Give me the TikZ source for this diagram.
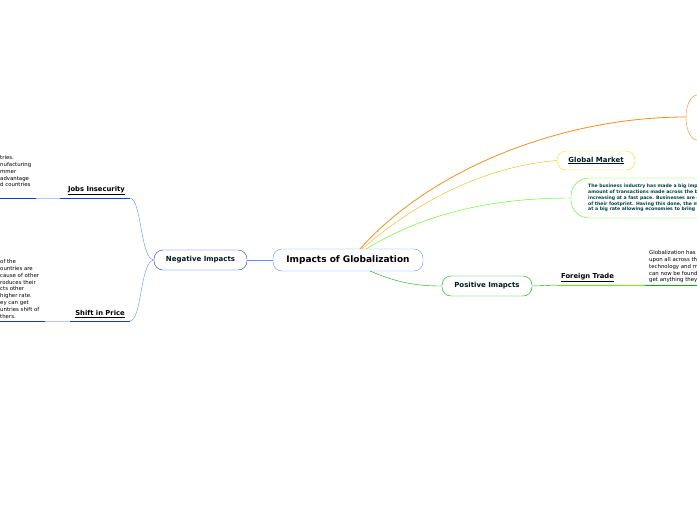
\documentclass[tikz,border=0pt]{standalone}
\usepackage{fontspec}
\setmainfont{DejaVu Sans}
\definecolor{lb}{RGB}{100,140,255}
\definecolor{db}{RGB}{20,60,220}
\begin{document}
\begin{tikzpicture}[x=1pt,y=-1pt,
 box/.style={draw,rounded corners=9pt,font=\bfseries\fontsize{7}{8}\selectfont,text=black!80!teal,inner sep=0pt},
 tiny/.style={font=\fontsize{5.4}{6.9}\selectfont,align=left,anchor=north west,inner sep=0pt,text=black},
 lab/.style={font=\bfseries\fontsize{6.8}{8}\selectfont,inner sep=0pt}]
\useasboundingbox (0,0) rectangle (697,520);
\node[box,draw=lb,minimum width=150pt,minimum height=22pt,font=\bfseries\fontsize{9}{10}\selectfont,text=black] (c) at (348,260) {Impacts of Globalization};
\node[box,draw=db,minimum width=93pt,minimum height=20pt] (n) at (200.5,260) {Negative Impacts};
\node[box,draw=green!70!black,minimum width=90pt,minimum height=20pt] (p) at (487,286) {Positive Imapcts};
\node[box,draw=yellow!90!orange,minimum width=78pt,minimum height=19pt] (g) at (596,160.5) {\underline{Global Market}};
\draw[green!60!lime,rounded corners=18pt] (697,178) -- (571,178) -- (571,218) -- (697,218);
\coordinate (gb) at (571,198);
\node[tiny,font=\bfseries\fontsize{4.6}{5.8}\selectfont,text=teal!50!black] at (588,184) {The business industry has made a big impa\\amount of transactions made across the bo\\increasing at a fast pace. Businesses are do\\of their footprint. Having this done, the ma\\at a big rate allowing economies to bring in};
\draw[orange!90] (697,95) arc (90:270:11pt and 22.5pt);
\coordinate (o) at (686,117);
\draw[orange!90,thick] (360,249) .. controls (430,170) and (560,117) .. (o);
\draw[orange!60!yellow] (362,249) .. controls (430,190) and (500,165) .. (g.west);
\draw[green!60!lime] (366,249) .. controls (430,210) and (500,198) .. (gb);
\draw[green!70!black] (370,271) .. controls (400,284) and (420,286) .. (p.west);
\draw[lb] (c.west) -- (n.east);
\coordinate (ft) at (697,285);
\draw[green!70!black] (p.east) -- (557,285);
\draw[green!60!lime,line width=1pt] (557,285) -- (620,285);
\draw[green!70!black,line width=1pt] (645,285) -- (ft);
\draw[green!40!lime,line width=1pt] (620,285) -- (645,285);
\node[lab,anchor=south west] (ftl) at (561,282) {\underline{Foreign Trade}};
\node[tiny] at (649,250) {Globalization has\\upon all across th\\technology and m\\can now be found\\get anything they};
\coordinate (j) at (0,198);
\coordinate (s) at (0,321);
\draw[lb] (n.west) .. controls (140,258) and (142,200) .. (130,198);
\draw[lb] (n.west) .. controls (140,262) and (142,320) .. (130,321);
\draw[db,line width=1pt] (130,198) -- (60,198);
\draw[lb!50,line width=1pt] (60,198) -- (36,198);
\draw[db,line width=1pt] (36,198) -- (j);
\draw[db,line width=1pt] (130,321) -- (70,321);
\draw[lb!50,line width=1pt] (70,321) -- (45,321);
\draw[db,line width=1pt] (45,321) -- (s);
\node[lab,anchor=south east] at (125,195) {\underline{Jobs Insecurity}};
\node[lab,anchor=south east] at (125,318) {\underline{Shift in Price}};
\node[tiny] at (0,155) {tries.\\nufacturing\\mmer\\advantage\\d countries};
\node[tiny] at (0,259) {of the\\ountries are\\cause of other\\roduces their\\cts other\\ higher rate.\\ey can get\\untries shift of\\thers.};
\end{tikzpicture}
\end{document}
